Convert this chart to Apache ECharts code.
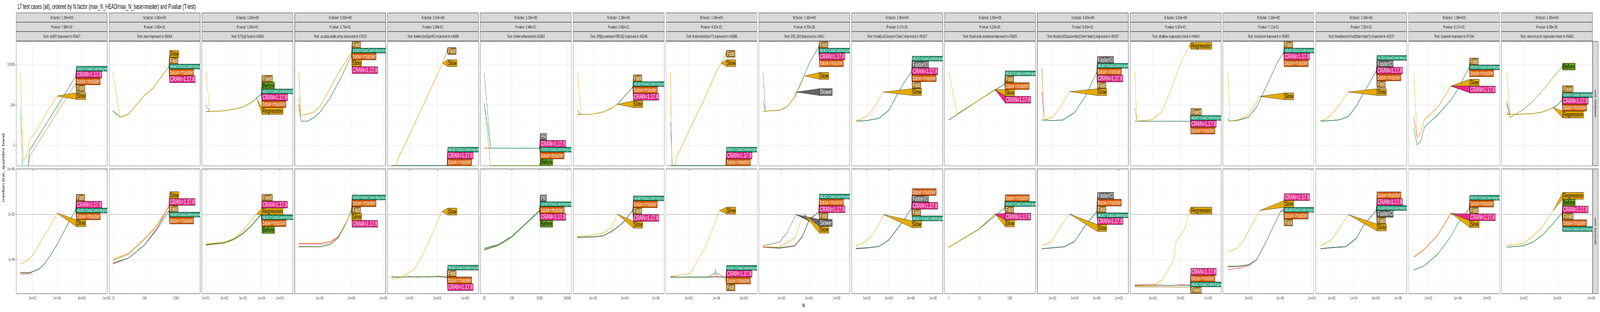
<!DOCTYPE html>
<html><head><meta charset="utf-8">
<script src="https://cdn.jsdelivr.net/npm/echarts@6/dist/echarts.min.js"></script>
<style>html,body{margin:0;padding:0;background:#fff;overflow:hidden}#wrap{position:absolute;left:0;top:0;width:6800px;height:800px;transform-origin:0 0}#c{width:6800px;height:800px}</style>
</head><body><div id="wrap"><div id="c"></div></div><script>
// fit the 6800x800 layout into the actual window if it is smaller
const W0 = window.innerWidth || 6800, H0 = window.innerHeight || 800;
if (W0 < 6790 || H0 < 790) document.getElementById('wrap').style.transform = 'scale(' + (W0 / 6800) + ',' + (H0 / 800) + ')';
// ---------------- DATA ----------------
const titleText = "17 test cases (all), ordered by N.factor (max_N_HEAD/max_N_base=master) and P.value (T-test)";
const tests = ["setDT improved in #5427","melt improved in #5054","DT[by] fixed in #4558","as.data.table.array improved in #7010","forderv(retGrp=F) improved in #4386","fwrite refactored in #6393","DT[by,verbose=TRUE] improved in #6296","forderv(retGrp=T) improved in #4386","DT[,.SD] improved in #4501","fread(colClasses='Date') improved in #6107","fread disk overhead improved in #6925","fread(colClasses=list(Date='date')) improved in #6107","shallow regression fixed in #4440","transform improved in #5493","fread(select=list(Date='date')) improved in #6107","isoweek improved in #7144","memrecycle regression fixed in #5463"];
const nFactors = ["1.00e+00","1.00e+00","1.00e+00","1.00e+00","1.00e+00","1.00e+00","1.00e+00","1.00e+00","1.00e+00","1.00e+00","1.00e+00","1.00e+00","1.00e+00","1.00e+00","1.00e+00","1.00e+00","1.00e+00"];
const pValues = ["7.98e-03","1.05e-01","1.56e-01","1.73e-01","1.88e-01","2.48e-01","3.85e-01","4.32e-01","4.70e-01","5.17e-01","5.23e-01","5.85e-01","5.87e-01","7.12e-01","7.82e-01","8.17e-01","9.39e-01"];
const units = ["unit: kilobytes","unit: seconds"];
const xTickExp = [[2,4,6,8],[1,2,3],[1,2,3,4,5],[3,6,9],[3,6,9],[1,2,3,4],[2,4,6],[3,6,9],[3,6,9],[2,4,6,8],[0,1,2],[2,4,6,8],[3,6,9],[3,6,9],[2,4,6,8],[2,4,6],[2,4,6]];
const xPlainLabels = [false,true,false,false,false,true,false,false,false,false,true,false,false,false,false,false,false];
const xLogMin = [0.67,0.88,0.78,0.63,0.65,0.86,0.73,0.52,0.55,0.62,-0.14,0.63,0.53,0.57,0.57,0.65,0.69];
const xLogMax = [8.08,3.76,5.71,9.24,10.44,4.15,6.53,10.43,10.45,8.89,2.85,8.86,10.43,9.21,8.80,6.86,6.07];
const yTickExp = [[0,2,4],[-4,-2,0]];
const yLogMin = [-1.01,-5.5];
const yLogMax = [5.16,0.02];

const kb01_main = [[10,0.01],[18,0.01],[32,0.01],[56,0.55],[1e4,85],[3.2e5,2600]];
const kb01 = [
 ["HEAD", [[10,80],[18,0.01],[32,0.01],[56,0.55],[1e4,85],[3.2e5,2600]]],
 ["CRAN", kb01_main],
 ["base", kb01_main],
 ["Fast", [[10,0.01],[18,0.01],[32,0.01],[56,0.28],[1e4,42],[3.2e5,1200]]],
 ["Slow", [[10,4300],[18,0.18],[32,0.29],[56,1.9],[190,5.0],[3100,93],[1e4,280]]]];
const sec01 = [
 ["Fast", [[10,2.8e-5],[56,2.7e-5],[100,3.0e-5],[340,3.9e-5],[1000,6.9e-5],[3100,1.7e-4],[1e4,4.8e-4],[3.2e4,1.6e-3],[1e5,5.1e-3],[3.2e5,1.65e-2]]],
 ["CRAN", [[10,2.3e-5],[56,2.4e-5],[100,2.9e-5],[340,3.8e-5],[1000,6.8e-5],[3100,1.7e-4],[1e4,4.7e-4],[3.2e4,1.6e-3],[1e5,5.1e-3],[3.2e5,1.6e-2]]],
 ["HEAD", [[10,2.6e-5],[56,2.6e-5],[100,3.0e-5],[340,3.9e-5],[1000,6.9e-5],[3100,1.7e-4],[1e4,4.8e-4],[3.2e4,1.6e-3],[1e5,5.1e-3],[3.2e5,1.6e-2]]],
 ["base", [[10,2.7e-5],[56,2.7e-5],[100,3.0e-5],[340,3.9e-5],[1000,7.0e-5],[3100,1.7e-4],[1e4,4.8e-4],[3.2e4,1.6e-3],[1e5,5.0e-3],[3.2e5,1.6e-2]]],
 ["Slow", [[10,6.2e-5],[56,1.1e-4],[100,1.6e-4],[340,4.8e-4],[1000,1.3e-3],[3100,3.5e-3],[1e4,1.15e-2]]]];

const kb02_main = [[10,52],[17,25],[32,36],[98,295],[190,710],[590,8100]];
const kb02 = [
 ["Slow", [[10,4300],[17,25],[32,36],[98,295],[190,710],[590,8100]]],
 ["Fast", kb02_main], ["HEAD", kb02_main], ["base", kb02_main], ["CRAN", kb02_main]];
const sec02 = [
 ["Slow", [[10,1.07e-4],[32,2.0e-4],[100,9.1e-4],[245,3.4e-3],[590,2.5e-2]]],
 ["CRAN", [[10,6.5e-5],[32,1.2e-4],[100,4.6e-4],[245,2.4e-3],[590,2.2e-2]]],
 ["Fast", [[10,9.5e-5],[32,1.8e-4],[100,8.0e-4],[245,3.0e-3],[590,2.1e-2]]],
 ["HEAD", [[10,7.2e-5],[32,1.23e-4],[100,4.5e-4],[245,2.2e-3],[590,1.5e-2]]],
 ["base", [[10,7.0e-5],[32,1.2e-4],[100,4.4e-4],[245,2.1e-3],[590,1.45e-2]]]];

const kb03_main = [[10,48],[16,48],[100,52],[320,62],[1000,81],[3000,135],[5500,220],[1e4,355]];
const kb03 = [
 ["Fixed", kb03_main], ["Before", kb03_main],
 ["HEAD", [[10,100],[16,48],[100,52],[320,62],[1000,81],[3000,135],[5500,220],[1e4,355]]],
 ["CRAN", kb03_main], ["base", kb03_main],
 ["Regression", [[10,4300],[16,48],[100,52],[320,62],[1000,81],[3000,135],[5500,220]]]];
const sec03 = [
 ["Fixed", [[10,4.9e-4],[100,5.9e-4],[320,8.3e-4],[1000,1.5e-3],[3000,3.4e-3],[1e4,1.1e-2]]],
 ["CRAN", [[10,4.6e-4],[100,5.6e-4],[320,8.0e-4],[1000,1.45e-3],[3000,3.3e-3],[1e4,1.08e-2]]],
 ["Regression", [[10,5.0e-4],[100,6.0e-4],[320,8.6e-4],[1000,2.0e-3],[5500,1.05e-2]]],
 ["HEAD", [[10,4.9e-4],[100,5.8e-4],[320,8.2e-4],[1000,1.5e-3],[3000,3.4e-3],[1e4,1.05e-2]]],
 ["base", [[10,4.8e-4],[100,5.8e-4],[320,8.1e-4],[1000,1.5e-3],[3000,3.3e-3],[1e4,1.03e-2]]],
 ["Before", [[10,4.4e-4],[100,5.4e-4],[320,7.6e-4],[1000,1.4e-3],[3000,3.2e-3],[1e4,1.0e-2]]]];

const kb04_up = [[10,4600],[17,32],[70,35],[280,46],[1100,91],[5900,440],[5.5e4,3800],[1e6,4e4]];
const kb04_low = [[10,100],[17,16],[70,16],[280,24],[1100,46],[1e4,240],[9.5e4,2100],[1e6,3e4]];
const kb04 = [
 ["Fast", kb04_up],
 ["HEAD", [[10,220],[17,16],[70,16],[280,24],[1100,46],[1e4,240],[9.5e4,2100],[1e6,3e4]]],
 ["base", kb04_low], ["Slow", kb04_up], ["CRAN", kb04_low]];
const sec04 = [
 ["HEAD", [[10,3.8e-4],[1100,3.8e-4],[1e4,4.9e-4],[5.5e4,9.1e-4],[3e5,4.0e-3],[1e6,1.7e-2]]],
 ["base", [[10,3.9e-4],[1100,3.8e-4],[1e4,5.0e-4],[5.5e4,9.3e-4],[3e5,4.1e-3],[1e6,1.6e-2]]],
 ["Fast", [[10,3.7e-4],[1100,3.7e-4],[1e4,4.8e-4],[5.5e4,9.0e-4],[3e5,4.0e-3],[1e6,1.5e-2]]],
 ["Slow", [[10,5.5e-4],[1100,5.5e-4],[1e4,6.5e-4],[5.5e4,1.07e-3],[3e5,4.4e-3],[1e6,1.5e-2]]],
 ["CRAN", [[10,5.0e-4],[1100,5.0e-4],[1e4,6.0e-4],[5.5e4,1.0e-3],[3e5,4.2e-3],[1e6,1.4e-2]]]];

const kb05_zero = [[12,0.1],[1.1e7,0.1]];
const kb05 = [
 ["Fast", [[12,0.03],[37,0.095],[69,0.26],[300,1.0],[1000,3.2],[3200,10.5],[2.3e4,74],[5.4e5,1700],[3.7e6,1.2e4],[1.1e7,4.8e4]]],
 ["Slow", [[12,0.03],[37,0.095],[69,0.26],[300,1.0],[1000,3.2],[3200,10.5],[2.3e4,74],[5.4e5,1700],[3.7e6,1.2e4]]],
 ["HEAD", kb05_zero], ["CRAN", kb05_zero], ["base", kb05_zero]];
const sec05 = [
 ["Slow", [[12,1.4e-5],[43,1.5e-5],[210,1.8e-5],[3500,3.9e-5],[1.26e4,9.3e-5],[6.2e4,3.5e-4],[1.6e5,8.3e-4],[5.5e5,2.6e-3],[3.1e6,1.35e-2]]],
 ["HEAD", [[12,1.75e-5],[100,1.65e-5],[1000,1.8e-5],[1e4,1.7e-5],[1e5,1.75e-5],[1e6,1.85e-5],[1.1e7,1.7e-5]]],
 ["Fast", [[12,1.7e-5],[100,1.75e-5],[1000,1.7e-5],[1e4,1.8e-5],[1e5,1.7e-5],[1e6,1.9e-5],[1.1e7,1.75e-5]]],
 ["base", [[12,1.8e-5],[100,1.7e-5],[1000,1.75e-5],[1e4,1.7e-5],[1e5,1.8e-5],[1e6,1.75e-5],[1.1e7,1.7e-5]]],
 ["CRAN", [[12,1.7e-5],[100,1.7e-5],[1000,1.8e-5],[1e4,1.75e-5],[1e5,1.7e-5],[1e6,1.8e-5],[1.1e7,1.65e-5]]]];

const kb06_flat = [[10,0.74],[1000,0.74]];
const kb06 = [
 ["PR", [[10,4200],[17,0.74],[1000,0.74]]],
 ["CRAN", kb06_flat],
 ["HEAD", [[10,130],[17,0.74],[1000,0.74]]],
 ["base", kb06_flat],
 ["Before", [[10,130],[17,0.1],[1000,0.1]]]];
const sec06 = [
 ["PR", [[10,3.3e-4],[32,4.7e-4],[100,1.1e-3],[275,3.5e-3],[1000,1.55e-2]]],
 ["HEAD", [[10,2.9e-4],[32,4.5e-4],[100,1.07e-3],[275,3.4e-3],[1000,1.5e-2]]],
 ["base", [[10,2.9e-4],[32,4.4e-4],[100,1.05e-3],[275,3.4e-3],[1000,1.5e-2]]],
 ["CRAN", [[10,2.8e-4],[32,4.4e-4],[100,1.05e-3],[275,3.3e-3],[1000,1.45e-2]]],
 ["Before", [[10,2.6e-4],[32,4.2e-4],[100,1.0e-3],[275,3.2e-3],[1000,1.4e-2]]]];

const kb07_main = [[10,34],[17,34],[100,36],[450,46],[1400,68],[3500,110],[1e4,270],[3.3e4,760]];
const kb07 = [
 ["Fast", kb07_main],
 ["HEAD", [[10,52],[17,34],[100,36],[450,46],[1400,68],[3500,110],[1e4,270],[3.3e4,760]]],
 ["base", kb07_main], ["CRAN", kb07_main],
 ["Slow", [[10,4200],[17,34],[100,36],[450,46],[1400,68],[3500,110]]]];
const sec07 = [
 ["HEAD", [[10,1.0e-3],[100,1.05e-3],[450,1.17e-3],[1400,1.8e-3],[3500,2.8e-3],[1e4,5.2e-3],[3.3e4,1.55e-2]]],
 ["base", [[10,1.0e-3],[100,1.04e-3],[450,1.16e-3],[1400,1.8e-3],[3500,2.8e-3],[1e4,5.1e-3],[3.3e4,1.5e-2]]],
 ["Fast", [[10,9.8e-4],[100,1.03e-3],[450,1.15e-3],[1400,1.75e-3],[3500,2.75e-3],[1e4,5.0e-3],[3.3e4,1.5e-2]]],
 ["CRAN", [[10,9.6e-4],[100,1.0e-3],[450,1.13e-3],[1400,1.7e-3],[3500,2.7e-3],[1e4,5.0e-3],[3.3e4,1.45e-2]]],
 ["Slow", [[10,1.07e-3],[100,1.23e-3],[450,1.55e-3],[1400,2.6e-3],[3500,1.05e-2]]]];

const kb08_zero = [[10,0.1],[1.07e7,0.1]];
const kb08 = [
 ["Fast", [[10,4200],[16,0.01],[30,0.095],[56,0.31],[1400,7.1],[3.4e4,135],[8.3e5,3800],[3.4e6,1.2e4],[1.07e7,3.5e4]]],
 ["Slow", [[10,4200],[16,0.01],[30,0.095],[56,0.31],[1400,7.1],[3.4e4,135],[8.3e5,3800],[3.4e6,1.2e4]]],
 ["HEAD", [[10,15],[16,0.1],[1.07e7,0.1]]],
 ["CRAN", kb08_zero], ["base", kb08_zero]];
const sec08 = [
 ["Slow", [[10,1.8e-5],[1400,2.5e-5],[9300,9.3e-5],[6.5e4,3.8e-4],[4.4e5,2.6e-3],[2.2e6,1.5e-2]]],
 ["HEAD", [[10,1.7e-5],[1000,1.75e-5],[1e5,1.7e-5],[5e5,1.7e-5],[8e5,3.9e-5],[1.2e6,1.7e-5],[1.07e7,1.7e-5]]],
 ["CRAN", [[10,1.75e-5],[1000,1.7e-5],[1e5,1.75e-5],[1e6,1.8e-5],[1.07e7,1.7e-5]]],
 ["base", [[10,1.7e-5],[1000,1.7e-5],[1e5,1.7e-5],[1e6,1.75e-5],[1.07e7,1.65e-5]]],
 ["Fast", [[10,1.65e-5],[1000,1.7e-5],[1e5,1.65e-5],[8e5,2.6e-5],[1.07e7,1.6e-5]]]];

const kb09_main = [[10,50],[18,50],[600,55],[4100,81],[2.75e4,240],[1.1e6,1.2e4],[1.15e7,7.8e4]];
const kb09 = [
 ["Fast", kb09_main],
 ["HEAD", [[10,160],[18,50],[600,55],[4100,81],[2.75e4,240],[1.1e6,1.2e4],[1.15e7,7.8e4]]],
 ["CRAN", kb09_main], ["base", kb09_main],
 ["Slow", [[10,50],[18,50],[600,55],[4100,81],[2.75e4,240],[3.5e5,2800]]],
 ["Slower", [[10,4600],[18,50],[600,55],[4100,81],[2.75e4,240],[3.8e4,440]]]];
const sec09 = [
 ["HEAD", [[10,3.8e-4],[600,3.3e-4],[2.75e4,4.2e-4],[1.9e5,1.07e-3],[1.1e6,6.2e-3],[1.15e7,1.3e-2]]],
 ["base", [[10,3.7e-4],[600,3.3e-4],[2.75e4,4.1e-4],[1.9e5,1.05e-3],[1.1e6,6.0e-3],[1.15e7,1.3e-2]]],
 ["CRAN", [[10,3.6e-4],[600,3.2e-4],[2.75e4,4.0e-4],[1.9e5,1.0e-3],[1.1e6,5.8e-3],[1.15e7,1.25e-2]]],
 ["Fast", [[10,3.8e-4],[600,3.4e-4],[2.75e4,4.2e-4],[1.9e5,1.1e-3],[1.1e6,6.4e-3],[1.15e7,1.3e-2]]],
 ["Slower", [[10,4.2e-4],[600,5.9e-4],[4100,1.55e-3],[3.8e4,1.0e-2]]],
 ["Slow", [[10,3.8e-4],[600,3.6e-4],[2.75e4,9.1e-4],[2.6e5,1.05e-2]]]];

const kb10_main = [[10,16],[100,17],[1230,22],[1e4,55],[5.1e4,300],[2.6e5,1400],[1.15e6,4600]];
const kb10 = [
 ["HEAD", kb10_main], ["FasterIO", kb10_main], ["CRAN", kb10_main], ["base", kb10_main], ["Fast", kb10_main],
 ["Slow", [[10,16],[22,19],[100,28],[430,68],[1230,200],[3200,440]]]];
const sec10 = [
 ["base", [[10,3.1e-4],[100,3.4e-4],[1230,3.9e-4],[1e4,7.6e-4],[5.1e4,2.2e-3],[2.6e5,6.2e-3],[1.15e6,2.1e-2]]],
 ["FasterIO", [[10,3.2e-4],[100,3.4e-4],[1230,3.9e-4],[1e4,7.5e-4],[5.1e4,2.2e-3],[2.6e5,6.1e-3],[1.15e6,2.1e-2]]],
 ["CRAN", [[10,3.0e-4],[100,3.3e-4],[1230,3.8e-4],[1e4,7.4e-4],[5.1e4,2.1e-3],[2.6e5,6.0e-3],[1.15e6,2.05e-2]]],
 ["Fast", [[10,3.1e-4],[100,3.4e-4],[1230,3.9e-4],[1e4,7.6e-4],[5.1e4,2.2e-3],[2.6e5,6.2e-3],[1.15e6,2.0e-2]]],
 ["HEAD", [[10,3.1e-4],[100,3.4e-4],[1230,3.9e-4],[1e4,7.6e-4],[5.1e4,2.2e-3],[2.6e5,6.2e-3],[1.15e6,2.0e-2]]],
 ["Slow", [[10,4.2e-4],[49,5.4e-4],[245,1.07e-3],[1230,3.6e-3],[3200,1.0e-2]]]];

const kb11_main = [[1,18],[10,180],[68,1100]];
const kb11 = [
 ["HEAD", kb11_main], ["Fast", kb11_main], ["base", kb11_main],
 ["Slow", [[1,4600],[1.9,37],[10,180],[33,590]]],
 ["CRAN", [[1,18],[10,180],[33,590]]]];
const sec11_main = [[1,3.5e-4],[10,2.3e-3],[68,1.95e-2]];
const sec11 = [
 ["base", sec11_main], ["HEAD", sec11_main], ["Fast", sec11_main],
 ["CRAN", [[1,3.5e-4],[10,2.3e-3],[33,1.05e-2]]],
 ["Slow", [[1,3.6e-4],[10,2.4e-3],[33,1.05e-2]]]];

const kb12_main = [[11,18],[18,18],[100,17],[830,18],[1e4,42],[1.05e5,300],[1e6,4200]];
const kb12 = [
 ["FasterIO", [[11,7400],[18,18],[100,17],[830,18],[1e4,42],[1.05e5,300],[1e6,4200]]],
 ["HEAD", kb12_main], ["base", kb12_main],
 ["CRAN", [[11,440],[18,18],[100,17],[830,18],[1e4,42],[1.05e5,300],[1e6,4200]]],
 ["Fast", kb12_main],
 ["Slow", [[11,4600],[18,18],[100,25],[490,74],[3500,460]]]];
const sec12_main = [[11,3.1e-4],[1200,3.8e-4],[1e4,6.5e-4],[1.05e5,3.6e-3],[1e6,1.35e-2]];
const sec12 = [
 ["FasterIO", sec12_main], ["base", sec12_main], ["Fast", sec12_main], ["HEAD", sec12_main],
 ["CRAN", [[11,3.0e-4],[1200,3.7e-4],[1e4,6.4e-4],[1.05e5,3.5e-3],[1e6,1.3e-2]]],
 ["Slow", [[11,4.2e-4],[90,6.5e-4],[490,2.8e-3],[3500,1.05e-2]]]];

const kb13_flat = [[11,16],[1.15e7,16]];
const kb13 = [
 ["Regression", [[11,4200],[18,16],[1000,19],[1.07e4,50],[7.2e4,440],[9.3e5,1e4],[8.7e6,8.7e4]]],
 ["Fixed", [[11,68],[18,16],[1.15e7,16]]],
 ["HEAD", kb13_flat], ["CRAN", kb13_flat], ["base", kb13_flat]];
const sec13 = [
 ["Regression", [[11,6.8e-6],[1000,7.4e-6],[1.07e4,1.26e-5],[3.7e4,3.3e-5],[1.8e5,9.3e-5],[3.5e5,7e-4],[6.6e5,9e-4],[3.3e6,2.6e-3],[8.7e6,1.5e-2]]],
 ["CRAN", [[11,7.6e-6],[1000,7.8e-6],[1e5,7.2e-6],[1e6,7.8e-6],[1.15e7,7.6e-6]]],
 ["base", [[11,7.4e-6],[1000,7.6e-6],[1e5,7.4e-6],[1e6,7.6e-6],[1.15e7,7.4e-6]]],
 ["HEAD", [[11,7.2e-6],[1000,7.4e-6],[1e5,7.4e-6],[1e6,7.4e-6],[1.15e7,7.3e-6]]],
 ["Fixed", [[11,6.3e-6],[1000,6.4e-6],[1e5,6.3e-6],[1e6,6.2e-6],[1.15e7,6.3e-6]]]];

const kb14_main = [[11,19.5],[17,16],[120,17.8],[1000,25],[5900,81],[5.5e4,950],[5.1e5,1.23e4],[2.1e6,4e4]];
const kb14 = [
 ["Fast", kb14_main], ["HEAD", kb14_main], ["CRAN", kb14_main], ["base", kb14_main],
 ["Slow", [[11,4600],[17,16],[120,19],[1000,34],[3400,91],[1.15e4,270]]]];
const sec14 = [
 ["CRAN", [[11,3.7e-5],[120,4.2e-5],[1000,5.5e-5],[5900,1.0e-4],[3.2e4,4.5e-4],[1.7e5,2.2e-3],[1e6,1.3e-2],[2.1e6,1.9e-2]]],
 ["Slow", [[11,2.3e-4],[69,3.1e-4],[360,7.6e-4],[1950,3.4e-3],[1.15e4,1.5e-2]]],
 ["HEAD", [[11,5.0e-5],[120,5.2e-5],[1000,6.0e-5],[5900,1.02e-4],[3.2e4,4.5e-4],[1.7e5,2.2e-3],[1e6,1.26e-2],[2.1e6,1.6e-2]]],
 ["base", [[11,4.8e-5],[120,5.0e-5],[1000,5.9e-5],[5900,1.0e-4],[3.2e4,4.4e-4],[1.7e5,2.2e-3],[1e6,1.25e-2],[2.1e6,1.6e-2]]],
 ["Fast", [[11,5.2e-5],[120,5.3e-5],[1000,6.1e-5],[5900,1.03e-4],[3.2e4,4.6e-4],[1.7e5,2.2e-3],[1e6,1.25e-2],[2.1e6,1.55e-2]]]];

const kb15_main = [[10,16],[100,17],[550,18.6],[3500,28],[1.74e4,91],[1.45e5,710],[1.1e6,5000]];
const kb15 = [
 ["HEAD", kb15_main], ["FasterIO", kb15_main], ["CRAN", kb15_main], ["base", kb15_main], ["Fast", kb15_main],
 ["Slow", [[10,17],[30,19.5],[100,34],[550,110],[3200,440]]]];
const sec15_main = [[10,3.1e-4],[100,3.5e-4],[1900,3.8e-4],[1.74e4,9.1e-4],[8.5e4,3.6e-3],[1.1e6,1.5e-2]];
const sec15 = [
 ["base", sec15_main], ["CRAN", [[10,3.0e-4],[100,3.4e-4],[1900,3.7e-4],[1.74e4,8.8e-4],[8.5e4,3.5e-3],[1.1e6,1.5e-2]]],
 ["HEAD", sec15_main], ["FasterIO", sec15_main], ["Fast", sec15_main],
 ["Slow", [[10,4.2e-4],[100,7.6e-4],[550,2.6e-3],[3200,1.0e-2]]]];

const kb16_low = [[10,7],[17,1.07],[30,1.6],[55,8.3],[460,34],[3400,180],[1e4,590],[6e4,7400]];
const kb16 = [
 ["Fast", kb16_low], ["HEAD", kb16_low], ["base", kb16_low],
 ["Slow", [[10,4200],[17,2.4],[30,4.1],[55,19.5],[460,81],[3400,870]]],
 ["CRAN", [[10,25],[17,2.4],[30,4.1],[55,19.5],[460,81],[3400,870]]]];
const sec16_low = [[10,3.5e-5],[55,5.5e-5],[460,1.86e-4],[3400,1.07e-3],[1e4,4.0e-3],[6e4,1.8e-2]];
const sec16 = [
 ["HEAD", sec16_low], ["base", sec16_low], ["Fast", sec16_low],
 ["CRAN", [[10,1.3e-4],[55,2.9e-4],[460,1.3e-3],[3400,1.1e-2]]],
 ["Slow", [[10,1.35e-4],[55,3.0e-4],[460,1.35e-3],[3400,1.15e-2]]]];

const kb17_flat = [[16,34],[100,36],[340,37],[1400,46],[5500,74],[1.1e4,107],[1.86e4,180]];
const kb17 = [
 ["Before", [[10,150],[16,24],[100,62],[340,148],[1950,780],[1.86e4,8100]]],
 ["Fixed", [[10,34]].concat(kb17_flat)],
 ["HEAD", [[10,150]].concat(kb17_flat)],
 ["CRAN", [[10,110]].concat(kb17_flat)],
 ["base", [[10,42]].concat(kb17_flat)],
 ["Regression", [[10,4200],[16,34],[100,36],[340,37],[1400,46],[5500,74]]]];
const sec17_main = [[10,3.6e-4],[100,4.2e-4],[340,5.9e-4],[1400,1.3e-3],[5500,4.0e-3],[1.86e4,1.15e-2]];
const sec17 = [
 ["Regression", [[10,4.2e-4],[100,5.4e-4],[340,1.07e-3],[1400,3.1e-3],[5500,1.5e-2]]],
 ["Before", sec17_main], ["CRAN", sec17_main], ["Fixed", sec17_main], ["base", sec17_main], ["HEAD", sec17_main]];

const kbPanels = [kb01,kb02,kb03,kb04,kb05,kb06,kb07,kb08,kb09,kb10,kb11,kb12,kb13,kb14,kb15,kb16,kb17];
const secPanels = [sec01,sec02,sec03,sec04,sec05,sec06,sec07,sec08,sec09,sec10,sec11,sec12,sec13,sec14,sec15,sec16,sec17];

// ---------------- STYLE / LAYOUT ----------------
const FONT = '"Liberation Sans", Arial, sans-serif';
const colorOf = n => ({HEAD:'#1B9E77', CRAN:'#E7298A', base:'#D95F02', Fast:'#A6761D', Fixed:'#A6761D', Before:'#66A61E', Slow:'#E6AB02', Regression:'#E6AB02'})[n] || '#666666';
const darkText = n => (n === 'Slow' || n === 'Regression' || n === 'Before');
const labelText = n => n === 'HEAD' ? 'HEAD=DataCodeIntegration' : n === 'CRAN' ? 'CRAN=1.17.8' : n === 'base' ? 'base=master' : n;
const drawPrio = n => ({CRAN:0, base:1, Fast:2, Fixed:2, Before:3, PR:4, Slower:4, FasterIO:4, HEAD:5, Slow:6, Regression:6})[n];
const fmtE = v => { const e = Math.round(v); return '1e' + (e < 0 ? '-' : '+') + String(Math.abs(e)).padStart(2, '0'); };
const fmtP = v => String(Math.round(Math.pow(10, v)));
const minorsOf = m => { const s = m.length > 1 ? m[1] - m[0] : 1; const out = m.map(v => v - s / 2); out.push(m[m.length - 1] + s / 2); return out; };

const mctx = document.createElement('canvas').getContext('2d');
const textW = (t, size) => { mctx.font = size + 'px ' + FONT; return mctx.measureText(t).width; };

const PX0 = 69, PITCH = 394.5, PW = 387;
const rowTop = [106, 433], rowH = [319, 320];

function layoutLabels(items, api, cs) {
  const pts = items.map(it => api.coord([it.x, it.y]));
  const lx = Math.max.apply(null, pts.map(p => p[0])) + 3;
  const n = items.length;
  const blocks = items.map((it, i) => ({s: i, e: i}));
  const fit = b => { let cum = 0, sum = 0; for (let i = b.s; i <= b.e; i++) { sum += pts[i][1] - cum - items[i].h / 2; cum += items[i].h; } b.top = sum / (b.e - b.s + 1); b.h = cum; };
  blocks.forEach(fit);
  let again = true;
  while (again) {
    again = false;
    for (let k = 0; k < blocks.length - 1; k++) {
      const a = blocks[k], b = blocks[k + 1];
      if (a.top + a.h > b.top + 0.01) { a.e = b.e; fit(a); blocks.splice(k + 1, 1); again = true; break; }
    }
  }
  const tops = [];
  blocks.forEach(b => { let y = b.top; for (let i = b.s; i <= b.e; i++) { tops[i] = y; y += items[i].h; } });
  let lim = cs.y + cs.height;
  for (let i = n - 1; i >= 0; i--) { tops[i] = Math.min(tops[i], lim - items[i].h); lim = tops[i]; }
  lim = cs.y;
  for (let i = 0; i < n; i++) { tops[i] = Math.max(tops[i], lim); lim = tops[i] + items[i].h; }
  return items.map((it, i) => ({px: pts[i][0], py: pts[i][1], lx: lx, top: tops[i]}));
}

const grids = [], xAxes = [], yAxes = [], series = [], graphics = [];
const xOverlay = [], yOverlay = [];
for (let r = 0; r < 2; r++) {
  for (let c = 0; c < 17; c++) {
    const g = r * 17 + c;
    grids.push({left: PX0 + c * PITCH, top: rowTop[r], width: PW, height: rowH[r], show: true, backgroundColor: '#fff', borderColor: '#333', borderWidth: 1, containLabel: false});
    const xm = xTickExp[c];
    xAxes.push({type: 'value', gridIndex: g, min: xLogMin[c], max: xLogMax[c],
      axisLine: {show: false},
      axisTick: {show: r === 1, customValues: xm, length: 3.7, lineStyle: {color: '#333', width: 1}},
      axisLabel: {show: r === 1, customValues: xm, formatter: xPlainLabels[c] ? fmtP : fmtE, color: '#4D4D4D', fontSize: 11.7, margin: 6, fontFamily: FONT},
      splitLine: {show: true, lineStyle: {color: '#E6E6E6', width: 1.1}}});
    xOverlay.push({type: 'value', gridIndex: g, min: xLogMin[c], max: xLogMax[c],
      axisLine: {show: false}, axisLabel: {show: false},
      axisTick: {show: false, customValues: minorsOf(xm)},
      splitLine: {show: true, lineStyle: {color: '#F2F2F2', width: 0.7}}});
    const ym = yTickExp[r];
    yAxes.push({type: 'value', gridIndex: g, min: yLogMin[r], max: yLogMax[r],
      axisLine: {show: false},
      axisTick: {show: c === 0, customValues: ym, length: 3.7, lineStyle: {color: '#333', width: 1}},
      axisLabel: {show: c === 0, customValues: ym, formatter: r === 0 ? fmtP : fmtE, color: '#4D4D4D', fontSize: 11.7, margin: 6, fontFamily: FONT},
      splitLine: {show: true, lineStyle: {color: '#E6E6E6', width: 1.1}}});
    yOverlay.push({type: 'value', gridIndex: g, min: yLogMin[r], max: yLogMax[r],
      axisLine: {show: false}, axisLabel: {show: false},
      axisTick: {show: false, customValues: minorsOf(ym)},
      splitLine: {show: true, lineStyle: {color: '#F2F2F2', width: 0.7}}});

    const list = (r === 0 ? kbPanels : secPanels)[c];
    const drawList = list.slice().sort((a, b) => drawPrio(a[0]) - drawPrio(b[0]));
    drawList.forEach((s, k) => {
      const sr = {type: 'line', xAxisIndex: g, yAxisIndex: g, name: s[0],
        data: s[1].map(p => [Math.log10(p[0]), Math.log10(p[1])]),
        showSymbol: false, symbol: 'none', clip: true, silent: true, z: 2,
        lineStyle: {color: colorOf(s[0]), width: 1.3}, itemStyle: {color: colorOf(s[0])}};
      if (r === 1 && k === 0) {
        sr.markLine = {silent: true, symbol: 'none', label: {show: false}, animation: false,
          lineStyle: {color: '#BEBEBE', width: 1.6, type: 'solid'}, data: [{yAxis: -2}]};
      }
      series.push(sr);
    });
    const items = list.map(s => {
      const nm = s[0], last = s[1][s[1].length - 1];
      const size = nm === 'HEAD' ? 11.5 : 17;
      const txt = labelText(nm);
      return {x: Math.log10(last[0]), y: Math.log10(last[1]), text: txt, size: size,
        h: nm === 'HEAD' ? 12.5 : 17.5, w: textW(txt, size) + 3,
        color: colorOf(nm), tc: darkText(nm) ? '#000' : '#fff'};
    });
    const cache = {};
    series.push({type: 'custom', xAxisIndex: g, yAxisIndex: g, clip: true, silent: true, z: 5,
      data: items.map(it => [it.x, it.y]),
      renderItem: (params, api) => {
        if (params.dataIndex === 0 || !cache.L) cache.L = layoutLabels(items, api, params.coordSys);
        const it = items[params.dataIndex], L = cache.L[params.dataIndex];
        return {type: 'group', children: [
          {type: 'polygon', shape: {points: [[L.px, L.py], [L.lx, L.top], [L.lx, L.top + it.h]]}, style: {fill: it.color, stroke: '#000', lineWidth: 0.6}},
          {type: 'rect', shape: {x: L.lx, y: L.top, width: it.w, height: it.h}, style: {fill: it.color, stroke: '#000', lineWidth: 0.8}},
          {type: 'text', style: {text: it.text, x: L.lx + 1.5, y: L.top + it.h / 2 + 0.5, fill: it.tc, font: it.size + 'px ' + FONT, align: 'left', verticalAlign: 'middle', textAlign: 'left', textVerticalAlign: 'middle'}}
        ]};
      }});
  }
}

for (let c = 0; c < 17; c++) {
  const x = PX0 + c * PITCH;
  [["N.factor: " + nFactors[c], 33], ["P.value: " + pValues[c], 57], ["Test: " + tests[c], 81]].forEach(([t, y]) => {
    graphics.push({type: 'rect', silent: true, shape: {x: x, y: y, width: PW, height: 24}, style: {fill: '#D9D9D9', stroke: '#333', lineWidth: 1}});
    graphics.push({type: 'text', silent: true, x: x + PW / 2, y: y + 12.5, style: {text: t, fill: '#1A1A1A', font: '11.7px ' + FONT, align: 'center', verticalAlign: 'middle', textAlign: 'center', textVerticalAlign: 'middle'}});
  });
}
for (let r = 0; r < 2; r++) {
  graphics.push({type: 'rect', silent: true, shape: {x: 6769, y: rowTop[r], width: 23, height: rowH[r]}, style: {fill: '#D9D9D9', stroke: '#333', lineWidth: 1}});
  graphics.push({type: 'text', silent: true, x: 6780.5, y: rowTop[r] + rowH[r] / 2, rotation: -Math.PI / 2, style: {text: units[r], fill: '#1A1A1A', font: '11.7px ' + FONT, align: 'center', verticalAlign: 'middle', textAlign: 'center', textVerticalAlign: 'middle'}});
}
graphics.push({type: 'text', silent: true, x: 3416, y: 784, style: {text: 'N', fill: '#000', font: '14.7px ' + FONT, align: 'center', verticalAlign: 'middle', textAlign: 'center', textVerticalAlign: 'middle'}});
graphics.push({type: 'text', silent: true, x: 15, y: 430, rotation: Math.PI / 2, style: {text: 'median line, quartiles band', fill: '#000', font: '14.7px ' + FONT, align: 'center', verticalAlign: 'middle', textAlign: 'center', textVerticalAlign: 'middle'}});

const chart = echarts.init(document.getElementById('c'), null, {renderer: 'canvas'});
chart.setOption({
  animation: false,
  backgroundColor: '#fff',
  textStyle: {fontFamily: FONT},
  title: {text: titleText, left: 69, top: 4, textStyle: {fontSize: 17.6, fontWeight: 'normal', color: '#000', fontFamily: FONT}},
  grid: grids,
  xAxis: xAxes.concat(xOverlay),
  yAxis: yAxes.concat(yOverlay),
  series: series,
  graphic: {elements: graphics}
});
</script></body></html>
